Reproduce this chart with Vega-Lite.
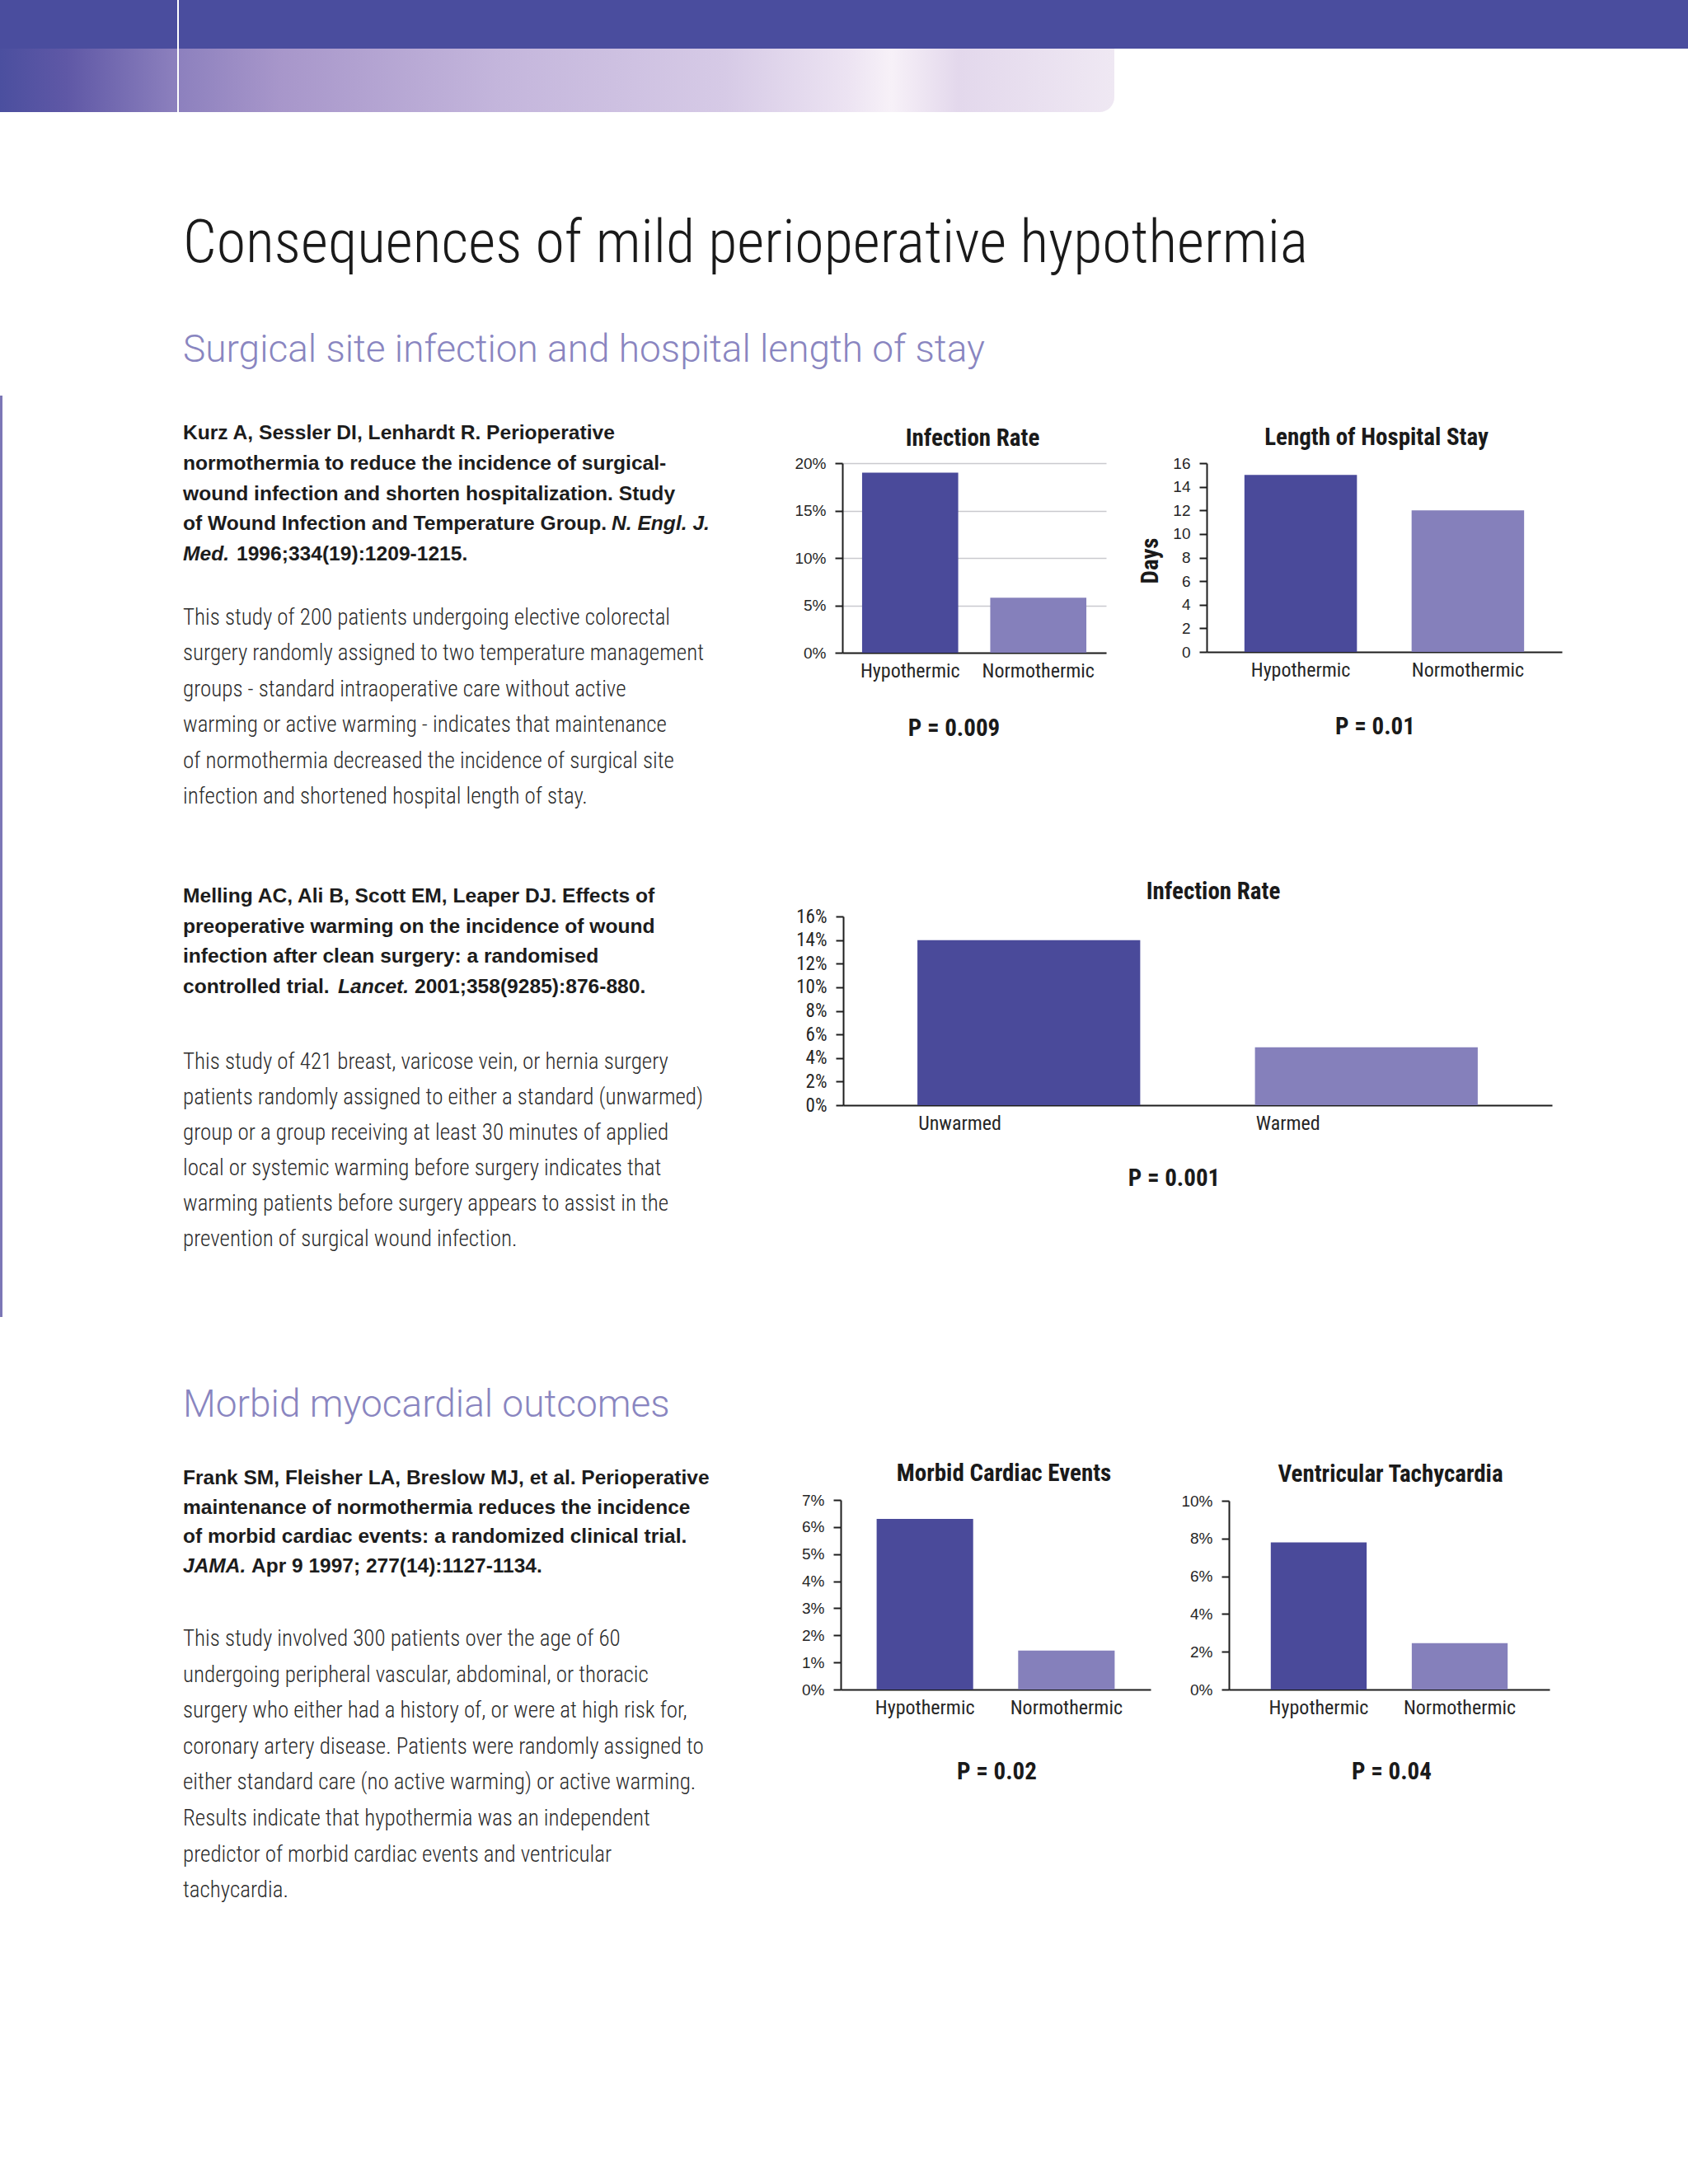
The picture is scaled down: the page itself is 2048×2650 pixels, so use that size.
{
  "$schema": "https://vega.github.io/schema/vega-lite/v6.json",
  "width": 2048,
  "height": 2650,
  "autosize": "none",
  "padding": 0,
  "background": "white",
  "config": {
    "view": {"stroke": null},
    "axis": {"domainColor": "#1e1e1e", "domainWidth": 2, "labelColor": "#262626", "titleColor": "#1a1a1a"},
    "axisX": {"ticks": false, "labelAngle": 0, "labelFont": "Roboto Condensed", "labelFontWeight": 400, "labelFontSize": 24, "labelPadding": 10, "titleFont": "Roboto Condensed", "titleFontSize": 29, "titleFontWeight": "bold", "titleAlign": "center", "titleBaseline": "alphabetic", "grid": false},
    "axisY": {"grid": true, "gridColor": "#c9c9ce", "gridWidth": 1.5, "tickColor": "#1e1e1e", "tickWidth": 2, "tickSize": 9, "labelFont": "Liberation Sans", "labelFontSize": 19, "labelPadding": 11}
  },
  "resolve": {"scale": {"x": "independent", "y": "independent", "color": "independent"}, "axis": {"x": "independent", "y": "independent"}},
  "data": {"values": [{}]},
  "layer": [
    {"mark": {"type": "rect", "color": "#4a4d9e"}, "encoding": {"x": {"value": 0}, "x2": {"value": 2048}, "y": {"value": 0}, "y2": {"value": 59}}},
    {"mark": {"type": "rect", "cornerRadiusBottomRight": 18, "fill": {"gradient": "linear", "x1": 0, "y1": 0, "x2": 1, "y2": 0, "stops": [
      {"offset": 0, "color": "#4b4f9f"},
      {"offset": 0.06, "color": "#5f58a6"},
      {"offset": 0.155, "color": "#8b7fbd"},
      {"offset": 0.25, "color": "#a796ca"},
      {"offset": 0.45, "color": "#c4b6dc"},
      {"offset": 0.65, "color": "#d6cae6"},
      {"offset": 0.76, "color": "#ece3f2"},
      {"offset": 0.8, "color": "#f7f1f8"},
      {"offset": 0.86, "color": "#e3d8ec"},
      {"offset": 1, "color": "#efe8f3"}]}},
     "encoding": {"x": {"value": 0}, "x2": {"value": 1352}, "y": {"value": 59}, "y2": {"value": 136}}},
    {"mark": {"type": "rule", "color": "white", "strokeWidth": 2}, "encoding": {"x": {"value": 216}, "y": {"value": 0}, "y2": {"value": 136}}},
    {"mark": {"type": "rect", "color": "#7c77b6"}, "encoding": {"x": {"value": 0}, "x2": {"value": 3}, "y": {"value": 480}, "y2": {"value": 1598}}},

    {"mark": {"type": "text", "align": "left", "baseline": "alphabetic", "font": "Roboto Condensed", "fontWeight": 300, "fontSize": 72, "color": "#1a1a1a"},
     "encoding": {"x": {"value": 222}, "y": {"value": 318}, "text": {"value": "Consequences of mild perioperative hypothermia"}}},
    {"mark": {"type": "text", "align": "left", "baseline": "alphabetic", "font": "Roboto", "fontWeight": 300, "fontSize": 46, "color": "#8985c0"},
     "encoding": {"x": {"value": 222}, "y": {"value": 439}, "text": {"value": "Surgical site infection and hospital length of stay"}}},

    {"mark": {"type": "text", "align": "left", "baseline": "alphabetic", "font": "Liberation Sans", "fontSize": 24.6, "fontWeight": "bold", "color": "#1c1c1c", "lineHeight": 36.75},
     "encoding": {"x": {"value": 222}, "y": {"value": 533}, "text": {"value": ["Kurz A, Sessler DI, Lenhardt R. Perioperative", "normothermia to reduce the incidence of surgical-", "wound infection and shorten hospitalization.  Study", "of Wound Infection and Temperature Group."]}}},
    {"mark": {"type": "text", "align": "left", "baseline": "alphabetic", "font": "Liberation Sans", "fontSize": 24.6, "fontWeight": "bold", "fontStyle": "italic", "color": "#1c1c1c"},
     "encoding": {"x": {"value": 742}, "y": {"value": 643}, "text": {"value": "N. Engl. J."}}},
    {"mark": {"type": "text", "align": "left", "baseline": "alphabetic", "font": "Liberation Sans", "fontSize": 24.6, "fontWeight": "bold", "fontStyle": "italic", "color": "#1c1c1c"},
     "encoding": {"x": {"value": 222}, "y": {"value": 680}, "text": {"value": "Med."}}},
    {"mark": {"type": "text", "align": "left", "baseline": "alphabetic", "font": "Liberation Sans", "fontSize": 24.6, "fontWeight": "bold", "color": "#1c1c1c"},
     "encoding": {"x": {"value": 287}, "y": {"value": 680}, "text": {"value": "1996;334(19):1209-1215."}}},
    {"mark": {"type": "text", "align": "left", "baseline": "alphabetic", "font": "Roboto Condensed", "fontWeight": 300, "fontSize": 27, "color": "#2b2b2b", "lineHeight": 43.4},
     "encoding": {"x": {"value": 222}, "y": {"value": 758}, "text": {"value": ["This study of 200 patients undergoing elective colorectal", "surgery randomly assigned to two temperature management", "groups - standard intraoperative care without active", "warming or active warming - indicates that maintenance", "of normothermia decreased the incidence of surgical site", "infection and shortened hospital length of stay."]}}},

    {"mark": {"type": "text", "align": "left", "baseline": "alphabetic", "font": "Liberation Sans", "fontSize": 24.6, "fontWeight": "bold", "color": "#1c1c1c", "lineHeight": 36.7},
     "encoding": {"x": {"value": 222}, "y": {"value": 1095}, "text": {"value": ["Melling AC, Ali B, Scott EM, Leaper DJ. Effects of", "preoperative warming on the incidence of wound", "infection after clean surgery: a randomised", "controlled trial."]}}},
    {"mark": {"type": "text", "align": "left", "baseline": "alphabetic", "font": "Liberation Sans", "fontSize": 24.6, "fontWeight": "bold", "fontStyle": "italic", "color": "#1c1c1c"},
     "encoding": {"x": {"value": 410}, "y": {"value": 1205}, "text": {"value": "Lancet."}}},
    {"mark": {"type": "text", "align": "left", "baseline": "alphabetic", "font": "Liberation Sans", "fontSize": 24.6, "fontWeight": "bold", "color": "#1c1c1c"},
     "encoding": {"x": {"value": 503}, "y": {"value": 1205}, "text": {"value": "2001;358(9285):876-880."}}},
    {"mark": {"type": "text", "align": "left", "baseline": "alphabetic", "font": "Roboto Condensed", "fontWeight": 300, "fontSize": 27, "color": "#2b2b2b", "lineHeight": 43},
     "encoding": {"x": {"value": 222}, "y": {"value": 1297}, "text": {"value": ["This study of 421 breast, varicose vein, or hernia surgery", "patients randomly assigned to either a standard (unwarmed)", "group or a group receiving at least 30 minutes of applied", "local or systemic warming before surgery indicates that", "warming patients before surgery appears to assist in the", "prevention of surgical wound infection."]}}},

    {"mark": {"type": "text", "align": "left", "baseline": "alphabetic", "font": "Roboto", "fontWeight": 300, "fontSize": 46, "color": "#8985c0"},
     "encoding": {"x": {"value": 222}, "y": {"value": 1719}, "text": {"value": "Morbid myocardial outcomes"}}},
    {"mark": {"type": "text", "align": "left", "baseline": "alphabetic", "font": "Liberation Sans", "fontSize": 24.5, "fontWeight": "bold", "color": "#1c1c1c", "lineHeight": 35.7},
     "encoding": {"x": {"value": 222}, "y": {"value": 1801}, "text": {"value": ["Frank SM, Fleisher LA, Breslow MJ, et al. Perioperative", "maintenance of normothermia reduces the incidence", "of morbid cardiac events: a randomized clinical trial."]}}},
    {"mark": {"type": "text", "align": "left", "baseline": "alphabetic", "font": "Liberation Sans", "fontSize": 24.5, "fontWeight": "bold", "fontStyle": "italic", "color": "#1c1c1c"},
     "encoding": {"x": {"value": 222}, "y": {"value": 1908}, "text": {"value": "JAMA."}}},
    {"mark": {"type": "text", "align": "left", "baseline": "alphabetic", "font": "Liberation Sans", "fontSize": 24.5, "fontWeight": "bold", "color": "#1c1c1c"},
     "encoding": {"x": {"value": 305}, "y": {"value": 1908}, "text": {"value": "Apr 9 1997; 277(14):1127-1134."}}},
    {"mark": {"type": "text", "align": "left", "baseline": "alphabetic", "font": "Roboto Condensed", "fontWeight": 300, "fontSize": 27, "color": "#2b2b2b", "lineHeight": 43.6},
     "encoding": {"x": {"value": 222}, "y": {"value": 1997}, "text": {"value": ["This study involved 300 patients over the age of 60", "undergoing peripheral vascular, abdominal, or thoracic", "surgery who either had a history of, or were at high risk for,", "coronary artery disease. Patients were randomly assigned to", "either standard care (no active warming) or active warming.", "Results indicate that hypothermia was an independent", "predictor of morbid cardiac events and ventricular", "tachycardia."]}}},

    {"mark": {"type": "text", "align": "center", "baseline": "alphabetic", "font": "Roboto Condensed", "fontSize": 29, "fontWeight": "bold", "color": "#1a1a1a"},
     "encoding": {"x": {"value": 1180}, "y": {"value": 541}, "text": {"value": "Infection Rate"}}},
    {"mark": {"type": "text", "align": "center", "baseline": "alphabetic", "font": "Roboto Condensed", "fontSize": 29, "fontWeight": "bold", "color": "#1a1a1a"},
     "encoding": {"x": {"value": 1670}, "y": {"value": 540}, "text": {"value": "Length of Hospital Stay"}}},
    {"mark": {"type": "text", "align": "center", "baseline": "alphabetic", "font": "Roboto Condensed", "fontSize": 29, "fontWeight": "bold", "color": "#1a1a1a"},
     "encoding": {"x": {"value": 1472}, "y": {"value": 1091}, "text": {"value": "Infection Rate"}}},
    {"mark": {"type": "text", "align": "center", "baseline": "alphabetic", "font": "Roboto Condensed", "fontSize": 29, "fontWeight": "bold", "color": "#1a1a1a"},
     "encoding": {"x": {"value": 1218}, "y": {"value": 1797}, "text": {"value": "Morbid Cardiac Events"}}},
    {"mark": {"type": "text", "align": "center", "baseline": "alphabetic", "font": "Roboto Condensed", "fontSize": 29, "fontWeight": "bold", "color": "#1a1a1a"},
     "encoding": {"x": {"value": 1687}, "y": {"value": 1798}, "text": {"value": "Ventricular Tachycardia"}}},

    {
      "data": {"values": [{"group": "Hypothermic", "rate": 0.19}, {"group": "Normothermic", "rate": 0.058}]},
      "mark": {"type": "bar"},
      "encoding": {
        "x": {"field": "group", "type": "nominal", "sort": null, "scale": {"range": [1022, 1342], "paddingInner": 0.25, "paddingOuter": 0.154},
              "axis": {"orient": "bottom", "offset": -1858, "title": "P = 0.009", "titleX": 1157, "titleY": 100}},
        "y": {"field": "rate", "type": "quantitative", "scale": {"domain": [0, 0.2], "nice": false, "range": [792, 562]},
              "axis": {"orient": "left", "offset": -1022, "title": null, "values": [0, 0.05, 0.1, 0.15, 0.2], "format": ".0%"}},
        "color": {"field": "group", "type": "nominal", "scale": {"domain": ["Hypothermic", "Normothermic"], "range": ["#4a4a9a", "#8580bb"]}, "legend": null}
      }
    },
    {
      "data": {"values": [{"group": "Hypothermic", "days": 15}, {"group": "Normothermic", "days": 12}]},
      "mark": {"type": "bar"},
      "encoding": {
        "x": {"field": "group", "type": "nominal", "sort": null, "scale": {"range": [1464, 1895], "paddingInner": 0.327, "paddingOuter": 0.226},
              "axis": {"orient": "bottom", "offset": -1859, "title": "P = 0.01", "titleX": 1668, "titleY": 99}},
        "y": {"field": "days", "type": "quantitative", "scale": {"domain": [0, 16], "nice": false, "range": [791, 562]},
              "axis": {"orient": "left", "offset": -1464, "title": "Days", "values": [0, 2, 4, 6, 8, 10, 12, 14, 16], "titleFont": "Roboto Condensed", "titleFontSize": 29, "titleFontWeight": "bold", "titleX": -69, "titleY": 680, "titleAngle": -90, "titleAlign": "center", "titleBaseline": "middle"}},
        "color": {"field": "group", "type": "nominal", "scale": {"domain": ["Hypothermic", "Normothermic"], "range": ["#4a4a9a", "#8580bb"]}, "legend": null}
      }
    },
    {
      "data": {"values": [{"group": "Unwarmed", "rate": 0.14}, {"group": "Warmed", "rate": 0.049}]},
      "mark": {"type": "bar"},
      "encoding": {
        "x": {"field": "group", "type": "nominal", "sort": null, "scale": {"range": [1023, 1883], "paddingInner": 0.34, "paddingOuter": 0.22},
              "axis": {"orient": "bottom", "offset": -1309, "title": "P = 0.001", "titleX": 1424, "titleY": 97, "labelAlign": "left", "labelOffset": -134}},
        "y": {"field": "rate", "type": "quantitative", "scale": {"domain": [0, 0.16], "nice": false, "range": [1341, 1112]},
              "axis": {"orient": "left", "offset": -1023, "title": null, "values": [0, 0.02, 0.04, 0.06, 0.08, 0.1, 0.12, 0.14, 0.16], "format": ".0%", "labelFont": "Roboto Condensed", "labelFontSize": 23}},
        "color": {"field": "group", "type": "nominal", "scale": {"domain": ["Unwarmed", "Warmed"], "range": ["#4a4a9a", "#8580bb"]}, "legend": null}
      }
    },
    {
      "data": {"values": [{"group": "Hypothermic", "rate": 0.063}, {"group": "Normothermic", "rate": 0.0144}]},
      "mark": {"type": "bar"},
      "encoding": {
        "x": {"field": "group", "type": "nominal", "sort": null, "scale": {"range": [1020, 1396], "paddingInner": 0.318, "paddingOuter": 0.254},
              "axis": {"orient": "bottom", "offset": -600, "title": "P = 0.02", "titleX": 1209, "titleY": 108}},
        "y": {"field": "rate", "type": "quantitative", "scale": {"domain": [0, 0.07], "nice": false, "range": [2050, 1820]},
              "axis": {"orient": "left", "offset": -1020, "title": null, "values": [0, 0.01, 0.02, 0.03, 0.04, 0.05, 0.06, 0.07], "format": ".0%"}},
        "color": {"field": "group", "type": "nominal", "scale": {"domain": ["Hypothermic", "Normothermic"], "range": ["#4a4a9a", "#8580bb"]}, "legend": null}
      }
    },
    {
      "data": {"values": [{"group": "Hypothermic", "rate": 0.078}, {"group": "Normothermic", "rate": 0.0246}]},
      "mark": {"type": "bar"},
      "encoding": {
        "x": {"field": "group", "type": "nominal", "sort": null, "scale": {"range": [1491, 1880], "paddingInner": 0.32, "paddingOuter": 0.297},
              "axis": {"orient": "bottom", "offset": -600, "title": "P = 0.04", "titleX": 1688, "titleY": 108}},
        "y": {"field": "rate", "type": "quantitative", "scale": {"domain": [0, 0.1], "nice": false, "range": [2050, 1821]},
              "axis": {"orient": "left", "offset": -1491, "title": null, "values": [0, 0.02, 0.04, 0.06, 0.08, 0.1], "format": ".0%"}},
        "color": {"field": "group", "type": "nominal", "scale": {"domain": ["Hypothermic", "Normothermic"], "range": ["#4a4a9a", "#8580bb"]}, "legend": null}
      }
    }
  ]
}
